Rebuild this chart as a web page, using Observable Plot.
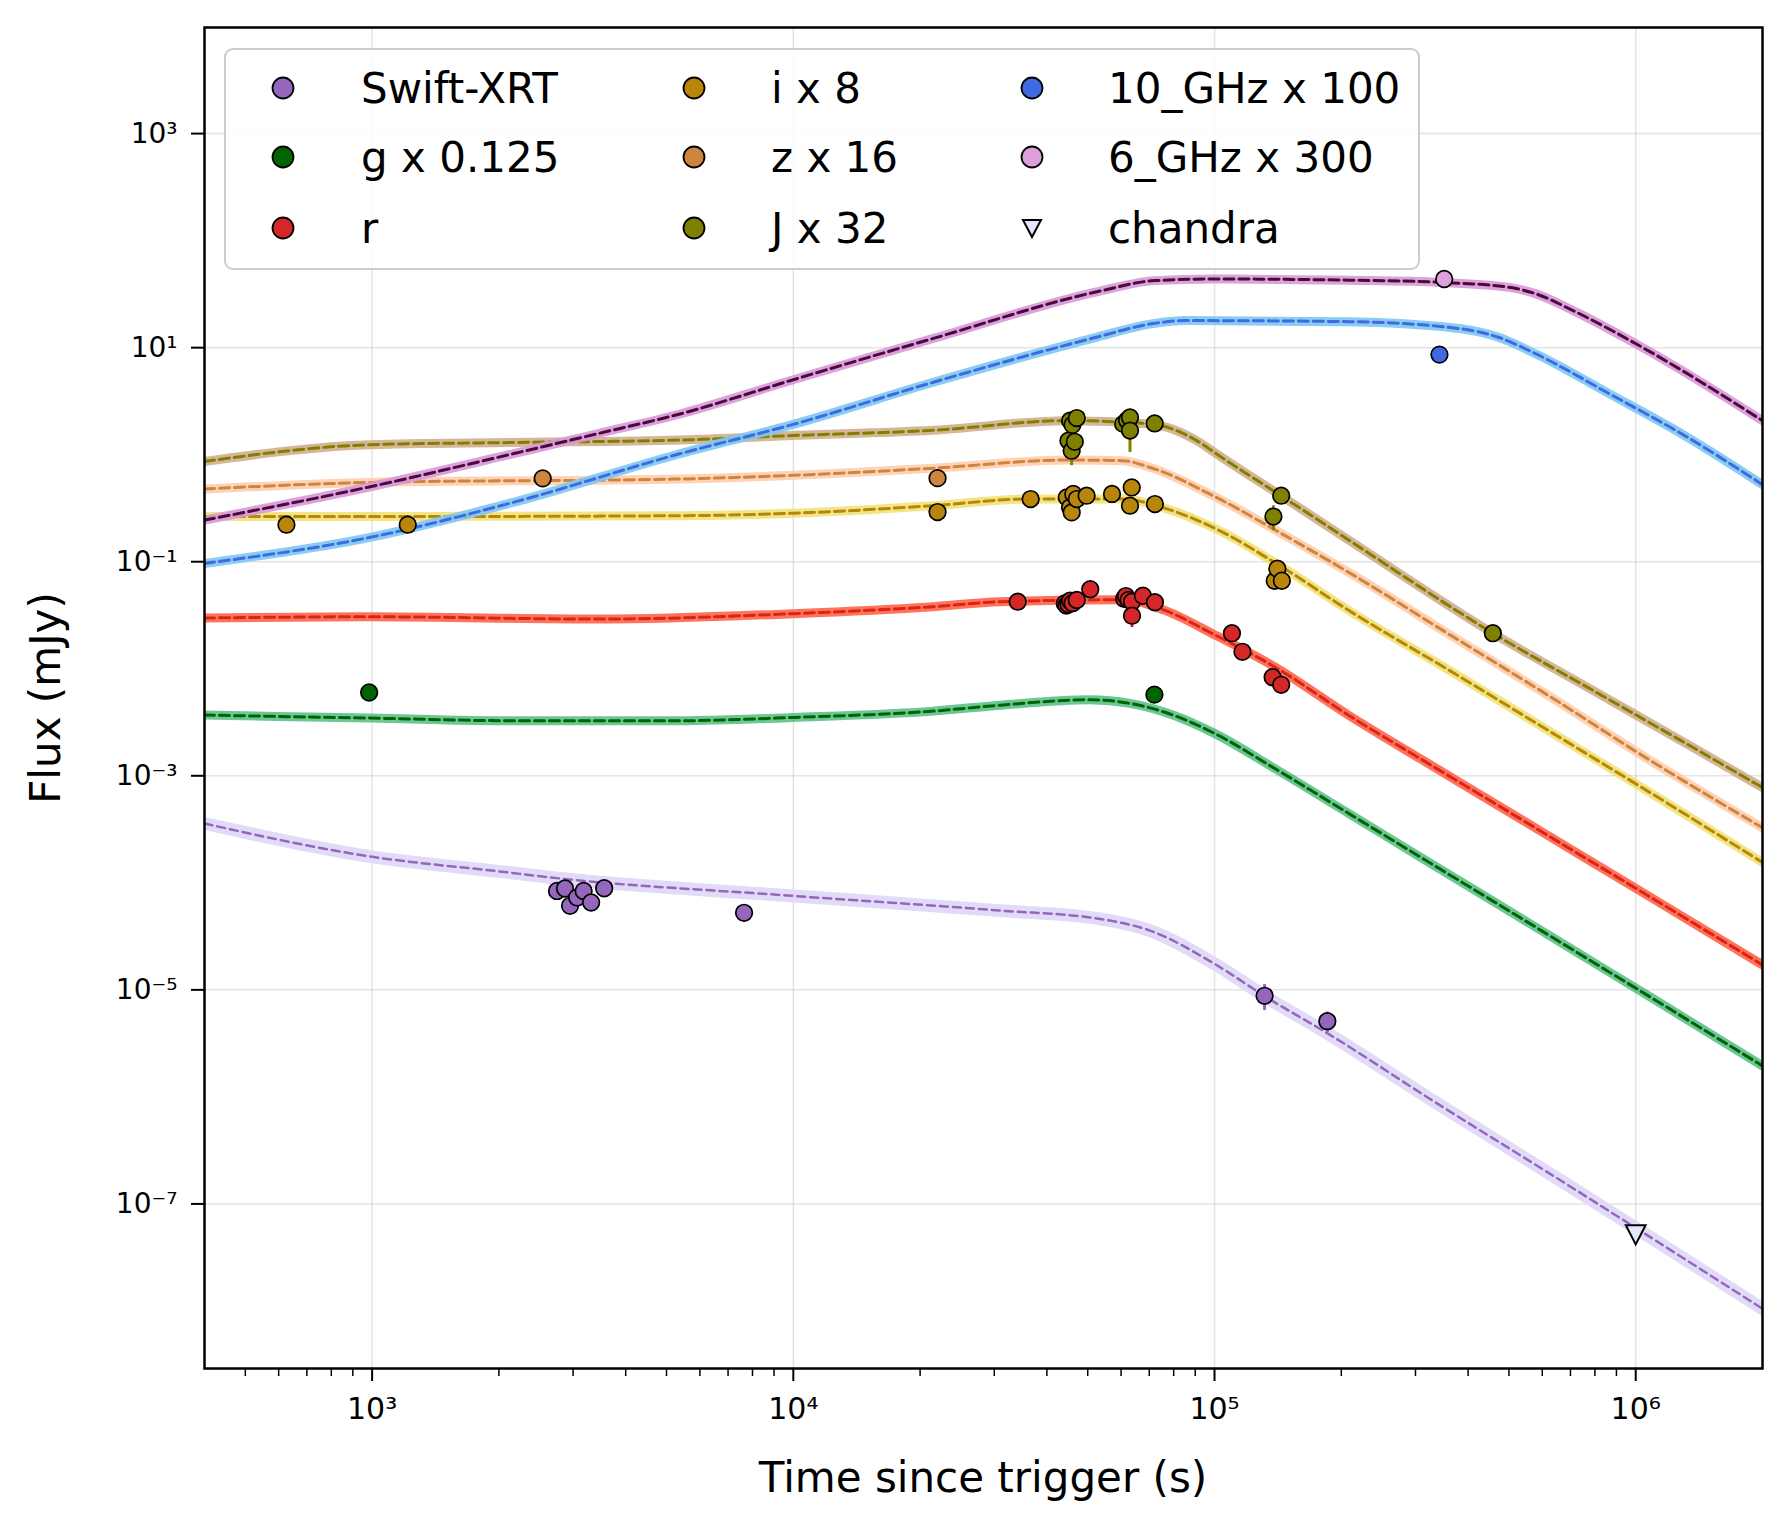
<!DOCTYPE html>
<html>
<head>
<meta charset="utf-8">
<script src="https://cdn.jsdelivr.net/npm/d3@7"></script>
<script src="https://cdn.jsdelivr.net/npm/@observablehq/plot@0.6"></script>
<style>
  html, body { margin: 0; padding: 0; background: #ffffff; }
  #wrap { position: relative; width: 1785px; height: 1530px; font-family: "DejaVu Sans", sans-serif; }
  #legend { position: absolute; left: 224px; top: 48px; }
</style>
</head>
<body>
<div id="wrap"></div>
<script>
// ---------------- data (time in s, flux in mJy) ----------------
// Swift-XRT
const xrtModelT = [400, 1000, 2000, 2840, 9300, 31000, 53500, 70000, 100000, 133000, 186000, 330000, 643000, 1000000, 2000000];
const xrtModelF = [3.58e-4, 1.75e-4, 1.28e-4, 1.09e-4, 7.7e-5, 5.5e-5, 4.6e-5, 3.6e-5, 1.75e-5, 8.5e-6, 3.9e-6, 9.2e-7, 1.79e-7, 5.97e-8, 1.05e-8];
const xrtT = [2748, 2871, 2951, 3067, 3178, 3311, 3556, 7640, 131500, 185300];
const xrtF = [8.4e-5, 8.85e-5, 6.1e-5, 7.3e-5, 8.4e-5, 6.55e-5, 8.9e-5, 5.25e-5, 8.8e-6, 5.1e-6];
// g x 0.125
const gModelT = [400, 990, 2160, 5380, 10000, 21500, 31000, 50600, 63000, 80500, 100000, 139000, 209000, 315000, 475000, 716000, 1080000, 2000000];
const gModelF = [3.69e-3, 3.46e-3, 3.27e-3, 3.27e-3, 3.51e-3, 4.02e-3, 4.57e-3, 5.13e-3, 4.75e-3, 3.64e-3, 2.49e-3, 1.17e-3, 4.41e-4, 1.65e-4, 6.2e-5, 2.31e-5, 8.63e-6, 1.95e-6];
const gT = [984, 72000];
const gF = [6.0e-3, 5.73e-3];
// r
const rModelT = [400, 990, 3475, 10000, 21500, 31000, 61200, 76200, 100000, 139000, 209000, 315000, 475000, 716000, 1080000, 2000000];
const rModelF = [2.98e-2, 3.06e-2, 2.91e-2, 3.27e-2, 3.80e-2, 4.23e-2, 4.41e-2, 3.51e-2, 2.08e-2, 1.04e-2, 3.64e-3, 1.37e-3, 5.19e-4, 1.96e-4, 7.41e-5, 1.71e-5];
const rT = [34100, 44100, 44500, 45000, 45400, 46000, 47100, 50700, 61000, 61600, 62500, 63700, 63700, 67600, 72200, 110000, 116500, 137400, 144000];
const rF = [4.23e-2, 4.08e-2, 3.9e-2, 4.0e-2, 4.32e-2, 4.1e-2, 4.39e-2, 5.53e-2, 4.5e-2, 4.78e-2, 4.4e-2, 4.23e-2, 3.13e-2, 4.81e-2, 4.18e-2, 2.15e-2, 1.44e-2, 8.33e-3, 7.08e-3];
// i x 8
const iModelT = [400, 1000, 5380, 10000, 21500, 35800, 60500, 75300, 101000, 145000, 209000, 362000, 625000, 1080000, 2000000];
const iModelF = [0.264, 0.264, 0.269, 0.284, 0.334, 0.385, 0.385, 0.321, 0.202, 0.0885, 0.0348, 9.6e-3, 2.6e-3, 7.0e-4, 1.55e-4];
const iT = [626, 1215, 22000, 36600, 44600, 45400, 45800, 46200, 47100, 49700, 57100, 63000, 63600, 72200, 139000, 141000, 144500];
const iF = [0.222, 0.222, 0.291, 0.385, 0.399, 0.322, 0.289, 0.430, 0.385, 0.414, 0.430, 0.334, 0.494, 0.346, 0.0664, 0.0861, 0.0664];
// z x 16
const zModelT = [400, 990, 5380, 10000, 21500, 44600, 60500, 70300, 101000, 145000, 209000, 362000, 625000, 1080000, 2000000];
const zModelF = [0.478, 0.551, 0.593, 0.641, 0.748, 0.891, 0.879, 0.760, 0.399, 0.181, 0.0789, 0.0208, 5.52e-3, 1.40e-3, 3.27e-4];
const zT = [2541, 22000];
const zF = [0.601, 0.604];
// J x 32
const jModelT = [400, 990, 2160, 5380, 10000, 21500, 44600, 70300, 92300, 101000, 145000, 209000, 458000, 822000, 1420000, 2000000];
const jModelF = [0.865, 1.24, 1.30, 1.37, 1.51, 1.69, 2.08, 1.94, 1.30, 1.02, 0.405, 0.158, 0.0215, 5.77e-3, 1.69e-3, 7.76e-4];
const jT = [45000, 45400, 45800, 46000, 46600, 47100, 60700, 62000, 63000, 63000, 72100, 138000, 144000, 458000];
const jF = [1.35, 2.08, 1.09, 1.9, 1.32, 2.20, 1.94, 2.1, 2.23, 1.68, 1.96, 0.264, 0.414, 0.0215];
// 10_GHz x 100
const ghz10ModelT = [400, 990, 2160, 5380, 10000, 21500, 52400, 70300, 85300, 209000, 385000, 472000, 580000, 867000, 1310000, 2000000];
const ghz10ModelF = [0.0964, 0.169, 0.358, 1.02, 1.92, 4.75, 12.5, 16.6, 17.9, 17.5, 15.0, 12.5, 8.73, 3.7, 1.5, 0.525];
const ghz10T = [342000];
const ghz10F = [8.61];
// 6_GHz x 300
const ghz6ModelT = [400, 990, 2160, 3475, 5380, 10000, 21500, 53500, 72000, 100000, 209000, 347000, 501000, 580000, 710000, 1070000, 2000000];
const ghz6ModelF = [0.245, 0.502, 1.02, 1.59, 2.40, 5.02, 12.2, 33.8, 42.3, 43.8, 42.7, 40.7, 36.6, 31.8, 22.2, 9.38, 2.08];
const ghz6T = [351000];
const ghz6F = [43.8];
// chandra upper limit
const chandraT = [1000000];
const chandraF = [5.36e-8];
// error bars
const errBand = ["Swift-XRT", "Swift-XRT", "J x 32", "J x 32", "J x 32", "r"];
const errT = [131500, 185300, 45800, 63000, 138000, 63700];
const errLo = [6.4e-6, 4.0e-6, 0.79, 1.05, 0.195, 2.43e-2];
const errHi = [1.12e-5, 6.2e-6, 1.39, 2.31, 0.333, 3.83e-2];

// ticks
const xMajor = [1e3, 1e4, 1e5, 1e6];
const xMinor = [500, 600, 700, 800, 900, 2e3, 3e3, 4e3, 5e3, 6e3, 7e3, 8e3, 9e3, 2e4, 3e4, 4e4, 5e4, 6e4, 7e4, 8e4, 9e4, 2e5, 3e5, 4e5, 5e5, 6e5, 7e5, 8e5, 9e5];
const yMajor = [1e3, 1e1, 1e-1, 1e-3, 1e-5, 1e-7];

// legend
const legendLabels = ["Swift-XRT", "g x 0.125", "r", "i x 8", "z x 16", "J x 32", "10_GHz x 100", "6_GHz x 300", "chandra"];

// ---------------- styling ----------------
const series = [
  {name: "Swift-XRT", mt: xrtModelT, mf: xrtModelF, pt: xrtT, pf: xrtF, band: "#e2dbf8", bandOp: 1, dash: "#9467bd", fill: "#9467bd", bw: 13, dw: 2.5},
  {name: "g x 0.125", mt: gModelT, mf: gModelF, pt: gT, pf: gF, band: "#3cb371", bandOp: 0.75, dash: "#006400", fill: "#006400", bw: 9, dw: 3},
  {name: "r", mt: rModelT, mf: rModelF, pt: rT, pf: rF, band: "#ff5a3c", bandOp: 0.85, dash: "#d9241c", fill: "#d62728", bw: 9, dw: 3},
  {name: "i x 8", mt: iModelT, mf: iModelF, pt: iT, pf: iF, band: "#eedc5c", bandOp: 0.75, dash: "#b8860b", fill: "#b8860b", bw: 9, dw: 3},
  {name: "z x 16", mt: zModelT, mf: zModelF, pt: zT, pf: zF, band: "#ffc7a0", bandOp: 0.8, dash: "#cd853f", fill: "#cd853f", bw: 9, dw: 3},
  {name: "J x 32", mt: jModelT, mf: jModelF, pt: jT, pf: jF, band: "#cfa984", bandOp: 0.85, dash: "#808000", fill: "#808000", bw: 9, dw: 3},
  {name: "10_GHz x 100", mt: ghz10ModelT, mf: ghz10ModelF, pt: ghz10T, pf: ghz10F, band: "#7cc8f2", bandOp: 0.9, dash: "#4169e1", fill: "#4169e1", bw: 9, dw: 3},
  {name: "6_GHz x 300", mt: ghz6ModelT, mf: ghz6ModelF, pt: ghz6T, pf: ghz6F, band: "#d898d8", bandOp: 0.9, dash: "#4a0a3c", fill: "#dda0dd", bw: 9, dw: 3}
];
const colorOf = Object.fromEntries(series.map(s => [s.name, s.fill]));

const supMap = {"0":"⁰","1":"¹","2":"²","3":"³","4":"⁴","5":"⁵","6":"⁶","7":"⁷","8":"⁸","9":"⁹","-":"⁻"};
const fmtPow = d => "10" + String(Math.round(Math.log10(d))).split("").map(c => supMap[c]).join("");

// downward triangle symbol
const triDown = {
  draw(ctx, size) {
    const s = Math.sqrt(size);
    ctx.moveTo(-0.62 * s, -0.48 * s);
    ctx.lineTo(0.62 * s, -0.48 * s);
    ctx.lineTo(0, 0.72 * s);
    ctx.closePath();
  }
};

const rowsOf = (ts, fs) => ts.map((t, i) => ({t, f: fs[i]}));

const marks = [
  Plot.gridX({ticks: xMajor, stroke: "#b0b0b0", strokeOpacity: 0.35, strokeWidth: 1.5}),
  Plot.gridY({ticks: yMajor, stroke: "#b0b0b0", strokeOpacity: 0.35, strokeWidth: 1.5})
];
for (const s of series) {
  const rows = rowsOf(s.mt, s.mf);
  marks.push(Plot.line(rows, {x: "t", y: "f", stroke: s.band, strokeOpacity: s.bandOp, strokeWidth: s.bw, curve: "monotone-x", clip: true}));
  marks.push(Plot.line(rows, {x: "t", y: "f", stroke: s.dash, strokeWidth: s.dw, strokeDasharray: s.name === "Swift-XRT" ? "8,5" : "10,5", curve: "monotone-x", clip: true}));
}
const errRows = errT.map((t, i) => ({t, lo: errLo[i], hi: errHi[i], c: colorOf[errBand[i]]}));
marks.push(Plot.ruleX(errRows, {x: "t", y1: "lo", y2: "hi", stroke: d => d.c, strokeWidth: 3}));
for (const s of series) {
  marks.push(Plot.dot(rowsOf(s.pt, s.pf), {x: "t", y: "f", r: 8.3, fill: s.fill, stroke: "black", strokeWidth: 1.7}));
}
marks.push(Plot.dot(rowsOf(chandraT, chandraF), {x: "t", y: "f", r: 9, symbol: triDown, fill: "#e6e6fa", stroke: "black", strokeWidth: 2}));

marks.push(Plot.axisX({ticks: xMinor, tickSize: 8, tickFormat: () => "", strokeWidth: 1.5, label: null}));
marks.push(Plot.axisX({ticks: xMajor, tickSize: 13, tickPadding: 16, tickFormat: fmtPow, fontSize: 30, strokeWidth: 2, label: null}));
marks.push(Plot.axisY({ticks: yMajor, tickSize: 13, tickPadding: 14, tickFormat: fmtPow, fontSize: 28, strokeWidth: 2, label: null}));
marks.push(Plot.frame({stroke: "black", strokeWidth: 2.5}));

const chart = Plot.plot({
  width: 1785,
  height: 1530,
  marginLeft: 204,
  marginRight: 23,
  marginTop: 27,
  marginBottom: 162,
  style: {fontFamily: "DejaVu Sans, sans-serif", background: "white", color: "black", overflow: "visible"},
  x: {type: "log", domain: [400, 2e6]},
  y: {type: "log", domain: [2.9e-9, 9.8e3]},
  marks
});

const svg = d3.select(chart);
svg.append("text")
  .attr("x", 983).attr("y", 1492)
  .attr("text-anchor", "middle")
  .attr("font-size", 42).attr("fill", "black")
  .attr("font-family", "DejaVu Sans, sans-serif")
  .text("Time since trigger (s)");
svg.append("text")
  .attr("transform", "translate(60,698) rotate(-90)")
  .attr("text-anchor", "middle")
  .attr("font-size", 42).attr("fill", "black")
  .attr("font-family", "DejaVu Sans, sans-serif")
  .text("Flux (mJy)");

const wrap = document.getElementById("wrap");
wrap.appendChild(chart);

// legend overlay
const legFills = series.map(s => s.fill).concat(["#e6e6fa"]);
const leg = d3.select(wrap).append("svg")
  .attr("id", "legend")
  .attr("width", 1196).attr("height", 222);
leg.append("rect")
  .attr("x", 1).attr("y", 1).attr("width", 1194).attr("height", 220)
  .attr("rx", 8).attr("ry", 8)
  .attr("fill", "white").attr("fill-opacity", 0.85)
  .attr("stroke", "#cccccc").attr("stroke-width", 2);
const colMarkX = [59, 470, 808];
const colTextX = [137, 547, 884];
const rowY = [40, 109, 180];
legendLabels.forEach((lab, i) => {
  const c = Math.floor(i / 3), r = i % 3;
  const mx = colMarkX[c], my = rowY[r];
  if (lab === "chandra") {
    leg.append("path")
      .attr("d", `M${mx - 9},${my - 8}L${mx + 9},${my - 8}L${mx},${my + 9}Z`)
      .attr("fill", legFills[i]).attr("stroke", "black").attr("stroke-width", 2);
  } else {
    leg.append("circle").attr("cx", mx).attr("cy", my).attr("r", 10.5)
      .attr("fill", legFills[i]).attr("stroke", "black").attr("stroke-width", 1.8);
  }
  leg.append("text")
    .attr("x", colTextX[c]).attr("y", my + 15)
    .attr("font-size", 42).attr("fill", "black")
    .attr("font-family", "DejaVu Sans, sans-serif")
    .text(lab);
});
</script>
</body>
</html>
